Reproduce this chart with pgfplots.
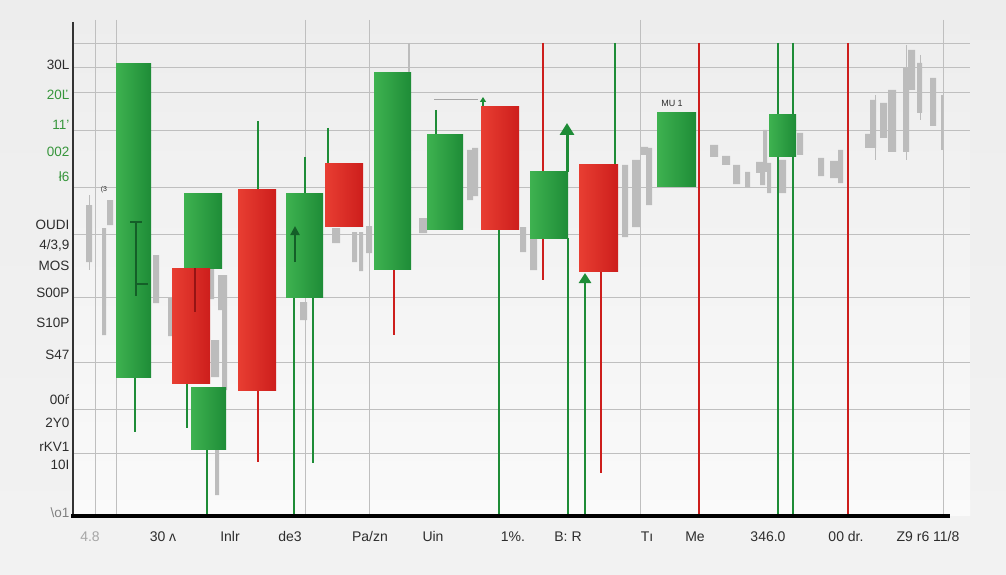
\documentclass[border=0pt]{standalone}
\usepackage{pgfplots}
\pgfplotsset{compat=1.18}
\usetikzlibrary{arrows.meta}
\usepackage{fontspec}
\setmainfont{Liberation Sans}
\definecolor{cg}{RGB}{30,140,55}
\definecolor{cgl}{RGB}{62,178,80}
\definecolor{cgd}{RGB}{20,95,40}
\definecolor{cr}{RGB}{205,30,28}
\definecolor{crl}{RGB}{232,62,50}
\definecolor{crd}{RGB}{150,20,20}
\definecolor{cgray}{RGB}{188,188,188}
\definecolor{lblg}{RGB}{55,150,60}
\definecolor{lbl}{RGB}{45,45,45}
% body: dark colour, light colour, x1, x2, ytop, ybottom
\newcommand{\bodyc}[6]{\addplot[draw=none, mark=none, left color=#2, right color=#1, forget plot] coordinates {(#3,#5) (#4,#5) (#4,#6) (#3,#6) (#3,#5)};}
\newcommand{\grayc}[4]{\addplot[draw=none, mark=none, fill=cgray, forget plot] coordinates {(#1,#3) (#2,#3) (#2,#4) (#1,#4) (#1,#3)};}
% wick: colour, width, x, y1, y2
\newcommand{\wick}[5]{\addplot[#1, line width=#2, mark=none, forget plot] coordinates {(#3,#4) (#3,#5)};}
\begin{document}
\begin{tikzpicture}
\useasboundingbox (0,0) rectangle (1006pt,575pt);
\shade[top color=gray!14, bottom color=gray!10] (0,0) rectangle (1006pt,575pt);
\begin{axis}[
  at={(73pt,60pt)}, anchor=south west,
  x=1pt, y=1pt, y dir=reverse,
  xmin=73, xmax=970, ymin=20, ymax=515,
  clip=false,
  axis line style={draw=none},
  axis background/.style={top color=gray!14, bottom color=gray!4},
  minor ytick={43,67,92,130,187,234,297,362,409,453},
  minor xtick={95,116,305,369,640,943},
  xminorgrids, yminorgrids,
  minor grid style={gray!50, line width=0.8pt},
  major tick length=0pt, minor tick length=0pt,
  ytick={65,95,125,152,177,225,245,266,293,323,355,400,423,447,465,513},
  yticklabels={30L,\textcolor{lblg}{20Ľ},\textcolor{lblg}{11'},\textcolor{lblg}{002},\textcolor{lblg}{ł6},
    OUDI,{4/3,9},MOS,S00P,S10P,S47,00ŕ,2Y0,rKV1,10I,\textcolor{gray}{\textbackslash o1}},
  xtick={90,163,230,290,370,433,513,568,647,695,768,846,928},
  xticklabels={\textcolor{gray!70}{4.8},30 ʌ,Inlr,de3,Pa/zn,Uin,1\%.,B: R,Tı,Me,346.0,00 dr.,Z9 r6 11/8},
  yticklabel style={font=\fontsize{13.5}{15}\selectfont, text=lbl},
  xticklabel style={font=\fontsize{14}{16}\selectfont, text=lbl, yshift=-13pt},
]
% gray background candles
\wick{cgray}{1pt}{89}{195}{270}
\grayc{86}{92}{205}{262}
\grayc{102}{106}{228}{335}
\grayc{107}{113}{200}{225}
\grayc{153}{159}{255}{303}
\grayc{168}{172}{298}{336}
\grayc{208}{214}{268}{299}
\grayc{218}{224}{275}{310}
\grayc{222}{227}{275}{390}
\grayc{211}{219}{340}{377}
\grayc{215}{219}{450}{495}
\grayc{300}{307}{302}{320}
\grayc{332}{340}{228}{243}
\grayc{352}{357}{232}{262}
\grayc{359}{363}{232}{271}
\grayc{366}{372}{226}{253}
\grayc{419}{427}{218}{233}
\grayc{467}{473}{150}{200}
\grayc{472}{478}{148}{196}
\grayc{520}{526}{227}{252}
\grayc{530}{537}{238}{270}
\grayc{622}{628}{165}{237}
\grayc{632}{640}{160}{227}
\grayc{646}{652}{148}{205}
\grayc{641}{648}{147}{155}
\grayc{710}{718}{145}{157}
\grayc{722}{730}{156}{165}
\grayc{733}{740}{165}{184}
\grayc{745}{750}{172}{187}
\grayc{756}{763}{162}{173}
\grayc{763}{767}{130}{172}
\grayc{760}{765}{163}{185}
\grayc{767}{771}{163}{193}
\grayc{778}{786}{160}{193}
\grayc{797}{803}{133}{155}
\grayc{818}{824}{158}{176}
\grayc{830}{838}{161}{178}
\grayc{838}{843}{150}{183}
\grayc{865}{870}{134}{148}
\grayc{870}{876}{100}{148}
\grayc{880}{887}{103}{138}
\grayc{888}{896}{90}{152}
\grayc{903}{909}{68}{152}
\grayc{908}{915}{50}{90}
\grayc{917}{922}{63}{113}
\grayc{930}{936}{78}{126}
\wick{cgray}{1pt}{906}{45}{160}
\wick{cgray}{1pt}{875}{95}{160}
\wick{cgray}{1pt}{920}{55}{120}
\wick{cgray}{1.5pt}{942}{95}{150}
\wick{cgray}{1.5pt}{409}{43}{73}
% long coloured lines
\wick{cr}{2.2pt}{543}{43}{280}
\wick{cg}{2.2pt}{615}{43}{165}
\wick{cr}{2.2pt}{699}{43}{515}
\wick{cg}{2.2pt}{778}{43}{515}
\wick{cg}{2.2pt}{793}{43}{515}
\wick{cr}{2.2pt}{848}{43}{515}
% coloured candles
\wick{cg}{2.5pt}{135}{377}{432}
\bodyc{cg}{cgl}{116}{151}{64}{377}
\wick{cg}{2pt}{187}{383}{428}
\bodyc{cg}{cgl}{184}{222}{193}{268}
\bodyc{cr}{crl}{172}{210}{268}{383}
\wick{cg}{2.5pt}{207}{449}{515}
\bodyc{cg}{cgl}{191}{226}{387}{449}
\wick{cg}{2.5pt}{258}{121}{189}
\wick{cr}{2.5pt}{258}{390}{462}
\bodyc{cr}{crl}{238}{276}{189}{390}
\wick{cg}{2.5pt}{305}{157}{193}
\wick{cg}{2.5pt}{313}{297}{463}
\wick{cg}{2.5pt}{294}{297}{515}
\bodyc{cg}{cgl}{286}{323}{193}{297}
\wick{cg}{2.5pt}{328}{128}{164}
\bodyc{cr}{crl}{325}{363}{164}{226}
\wick{cr}{2.5pt}{394}{269}{335}
\bodyc{cg}{cgl}{374}{411}{73}{269}
\wick{cg}{2.5pt}{436}{110}{135}
\bodyc{cg}{cgl}{427}{463}{135}{229}
\wick{cg}{2.5pt}{499}{229}{515}
\bodyc{cr}{crl}{481}{519}{107}{229}
\wick{cg}{2.5pt}{568}{238}{515}
\bodyc{cg}{cgl}{530}{568}{172}{238}
\wick{cr}{2.5pt}{601}{271}{473}
\bodyc{cr}{crl}{579}{618}{165}{271}
\bodyc{cg}{cgl}{657}{696}{113}{186}
\bodyc{cg}{cgl}{769}{796}{115}{157}
% arrows and marks inside candles
\addplot[cg, line width=3pt, mark=none, -{Triangle[length=12pt,width=14pt]}, forget plot] coordinates {(567,172) (567,123)};
\addplot[cg, line width=2.5pt, mark=none, -{Triangle[length=10pt,width=12pt]}, forget plot] coordinates {(585,515) (585,273)};
\addplot[cgd, line width=2.5pt, mark=none, -{Triangle[length=9pt,width=9pt]}, forget plot] coordinates {(295,262) (295,226)};
\addplot[cgd, line width=2pt, mark=none, forget plot] coordinates {(130,222) (142,222)};
\addplot[cgd, line width=2pt, mark=none, forget plot] coordinates {(136,222) (136,296)};
\addplot[cgd, line width=1.5pt, mark=none, forget plot] coordinates {(136,284) (148,284)};
\addplot[crd, line width=2pt, mark=none, forget plot] coordinates {(195,268) (195,312)};
\addplot[gray!70, line width=1pt, mark=none, forget plot] coordinates {(434,100) (478,100)};
\addplot[cg, line width=2pt, mark=none, -{Triangle[length=5pt,width=6pt]}, forget plot] coordinates {(483,106) (483,97)};
% axis lines
\addplot[black!80, line width=1.8pt, mark=none, forget plot] coordinates {(73,22) (73,515)};
\addplot[black, line width=4pt, mark=none, forget plot] coordinates {(71,516) (950,516)};
\node[font=\fontsize{9}{10}\selectfont, text=lbl] at (672,103) {MU 1};
\node[font=\fontsize{7}{8}\selectfont, text=lbl] at (104,190) {(3};
\end{axis}
\end{tikzpicture}
\end{document}
